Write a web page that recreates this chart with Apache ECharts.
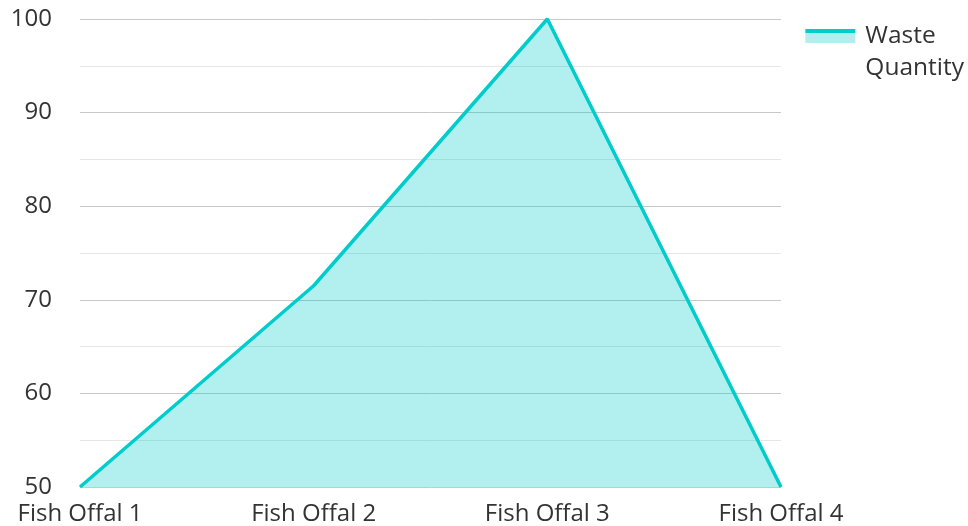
<!DOCTYPE html>
<html>
<head>
<meta charset="utf-8">
<script src="https://cdn.jsdelivr.net/npm/echarts@6/dist/echarts.min.js"></script>
<style>
  html, body { margin: 0; padding: 0; background: #fff; }
  #chart { width: 968px; height: 526px; }
</style>
</head>
<body>
<div id="chart"></div>
<script>
// Waste quantity per fish offal batch
const categories = ['Fish Offal 1', 'Fish Offal 2', 'Fish Offal 3', 'Fish Offal 4'];
const wasteQuantity = [50, 71.5, 100, 50];
const seriesName = 'Waste Quantity';

const chart = echarts.init(document.getElementById('chart'));
const font = '"Open Sans", "Noto Sans", sans-serif';
const teal = '#00cccc';
const tealLight = '#b2eeee';

chart.setOption({
  animation: false,
  textStyle: { fontFamily: font },
  grid: { left: 80, right: 187, top: 19, bottom: 39, containLabel: false },
  legend: {
    right: -1,
    top: -17,
    orient: 'vertical',
    icon: 'rect',
    itemWidth: 50,
    itemHeight: 14,
    itemStyle: {
      borderWidth: 0,
      color: new echarts.graphic.LinearGradient(0, 0, 0, 1, [
        { offset: 0, color: teal },
        { offset: 0.28, color: teal },
        { offset: 0.28, color: tealLight },
        { offset: 1, color: tealLight }
      ])
    },
    // wrap the name onto two lines, first line level with the icon
    formatter: name => '\n' + name.split(' ').join('\n'),
    textStyle: {
      fontSize: 24.5,
      color: '#333',
      fontFamily: font,
      lineHeight: 32,
      padding: [0, 0, 0, 5]
    },
    data: [seriesName]
  },
  xAxis: {
    type: 'category',
    data: categories,
    boundaryGap: false,
    axisLine: { show: false },
    axisTick: { show: false },
    axisLabel: { fontSize: 24, color: '#333', margin: 15, fontFamily: font }
  },
  yAxis: {
    type: 'value',
    min: 50,
    max: 100,
    interval: 10,
    axisLine: { show: false },
    axisTick: { show: false },
    axisLabel: { fontSize: 24, color: '#333', margin: 28, fontFamily: font },
    splitLine: { show: true, lineStyle: { color: '#c8c8c8', width: 1 } },
    minorTick: { show: false, splitNumber: 2 },
    minorSplitLine: { show: true, lineStyle: { color: '#e6e6e6', width: 1 } }
  },
  series: [{
    name: seriesName,
    type: 'line',
    data: wasteQuantity,
    showSymbol: false,
    symbol: 'none',
    lineStyle: { color: teal, width: 3.5 },
    itemStyle: { color: teal },
    areaStyle: { color: teal, opacity: 0.3 },
    z: 1
  }]
});
</script>
</body>
</html>
